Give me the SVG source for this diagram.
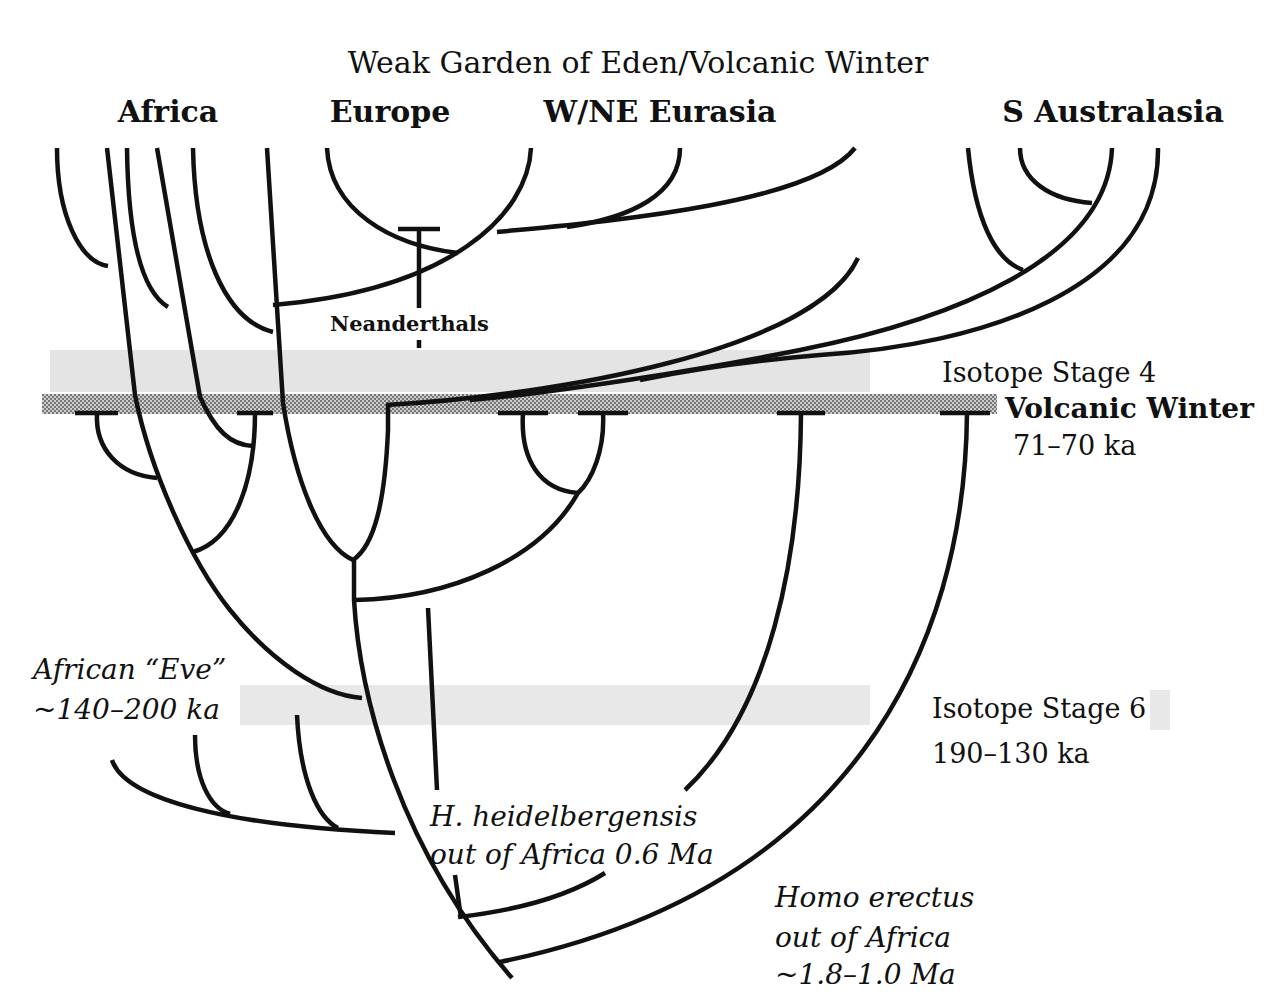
<svg xmlns="http://www.w3.org/2000/svg" width="1287" height="996" viewBox="0 0 1287 996">
<style>
.l{fill:none;stroke:#111;stroke-width:4.5;stroke-linecap:butt}
.t{font-family:"DejaVu Serif","Liberation Serif",serif;fill:#111}
.b{font-weight:bold}
.i{font-style:italic}
</style>
<defs>
<pattern id="dots" width="4" height="4" patternUnits="userSpaceOnUse">
<rect width="4" height="4" fill="#ccc"/>
<rect width="2" height="2" fill="#777"/>
<rect x="2" y="2" width="2" height="2" fill="#777"/>
</pattern>
</defs>
<rect width="1287" height="996" fill="#fff"/>
<g id="bands">
<rect x="50" y="350" width="820" height="42" fill="#e4e4e4"/>
<rect x="42" y="394" width="955" height="20" fill="url(#dots)"/>
<rect x="240" y="685" width="630" height="40" fill="#e8e8e8"/>
<rect x="1150" y="690" width="20" height="40" fill="#e8e8e8"/>
</g>
<g id="connectors">
<path class="l" d="M57,148 C57,215 80,262 108,266"/>
<path class="l" d="M107,148 L135,395 C150,470 190,560 230,610 C270,660 320,695 362,698"/>
<path class="l" d="M127,148 C128,230 140,290 168,307"/>
<path class="l" d="M157,148 L200,397 C215,430 230,445 253,446"/>
<path class="l" d="M193,148 C195,250 225,320 273,332"/>
<path class="l" d="M267,148 L283,403 C295,480 320,545 353,560"/>
<path class="l" d="M75,413 H118 M97,413 C95,450 120,475 157,478"/>
<path class="l" d="M237,413 H273 M255,413 C255,480 235,540 193,552"/>
<path class="l" d="M388,405 L388,430 C385,500 375,545 353,560"/>
<path class="l" d="M327,148 C330,210 390,245 458,253"/>
<path class="l" d="M531,148 C528,215 450,290 273,305"/>
<path class="l" d="M497,232 C600,222 810,205 855,148"/>
<path class="l" d="M680,148 C680,195 630,218 567,227"/>
<path class="l" d="M398,229 H440 M419,229 V308 M419,340 V348"/>
<path class="l" d="M386,405 C560,395 815,350 858,258"/>
<path class="l" d="M1112,148 C1108,260 950,320 800,350 C700,370 560,392 470,400"/>
<path class="l" d="M1158,148 C1160,290 980,345 820,355 C760,360 700,368 640,380"/>
<path class="l" d="M968,148 C975,220 995,260 1023,270"/>
<path class="l" d="M1020,148 C1020,180 1050,200 1092,203"/>
<path class="l" d="M498,413 H548 M578,413 H628"/>
<path class="l" d="M523,413 C520,460 540,490 578,493 M603,413 C605,450 592,480 578,493 M578,493 C540,560 450,598 355,600"/>
<path class="l" d="M777,413 H825 M801,413 C800,560 770,710 685,790"/>
<path class="l" d="M940,413 H990 M967,413 C965,650 850,890 500,962"/>
<path class="l" d="M354,560 L354,600 C360,700 400,850 512,978"/>
<path class="l" d="M428,608 L437,790"/>
<path class="l" d="M455,875 L461,918 M458,917 C520,910 570,895 605,873"/>
<path class="l" d="M112,760 C125,800 230,826 395,833"/>
<path class="l" d="M195,735 C195,780 210,808 230,814"/>
<path class="l" d="M297,715 C300,780 318,818 338,828"/>
</g>
<g id="labels">
<text class="t" x="638" y="73" font-size="30" text-anchor="middle">Weak Garden of Eden/Volcanic Winter</text>
<text class="t b" x="168" y="122" font-size="30" text-anchor="middle">Africa</text>
<text class="t b" x="390" y="122" font-size="30" text-anchor="middle">Europe</text>
<text class="t b" x="660" y="122" font-size="30" text-anchor="middle">W/NE Eurasia</text>
<text class="t b" x="1113" y="122" font-size="30" text-anchor="middle">S Australasia</text>
<text class="t b" x="330" y="331" font-size="21">Neanderthals</text>
<text class="t" x="942" y="382" font-size="27">Isotope Stage 4</text>
<text class="t b" x="1005" y="418" font-size="28">Volcanic Winter</text>
<text class="t" x="1013" y="455" font-size="27">71–70 ka</text>
<text class="t i" x="33" y="679" font-size="28">African “Eve”</text>
<text class="t i" x="33" y="719" font-size="28">~140–200 ka</text>
<text class="t" x="932" y="718" font-size="27">Isotope Stage 6</text>
<text class="t" x="932" y="763" font-size="27">190–130 ka</text>
<text class="t i" x="430" y="826" font-size="28">H. heidelbergensis</text>
<text class="t i" x="430" y="864" font-size="28">out of Africa 0.6 Ma</text>
<text class="t i" x="775" y="907" font-size="28">Homo erectus</text>
<text class="t i" x="775" y="947" font-size="28">out of Africa</text>
<text class="t i" x="775" y="984" font-size="28">~1.8–1.0 Ma</text>
</g>
</svg>
